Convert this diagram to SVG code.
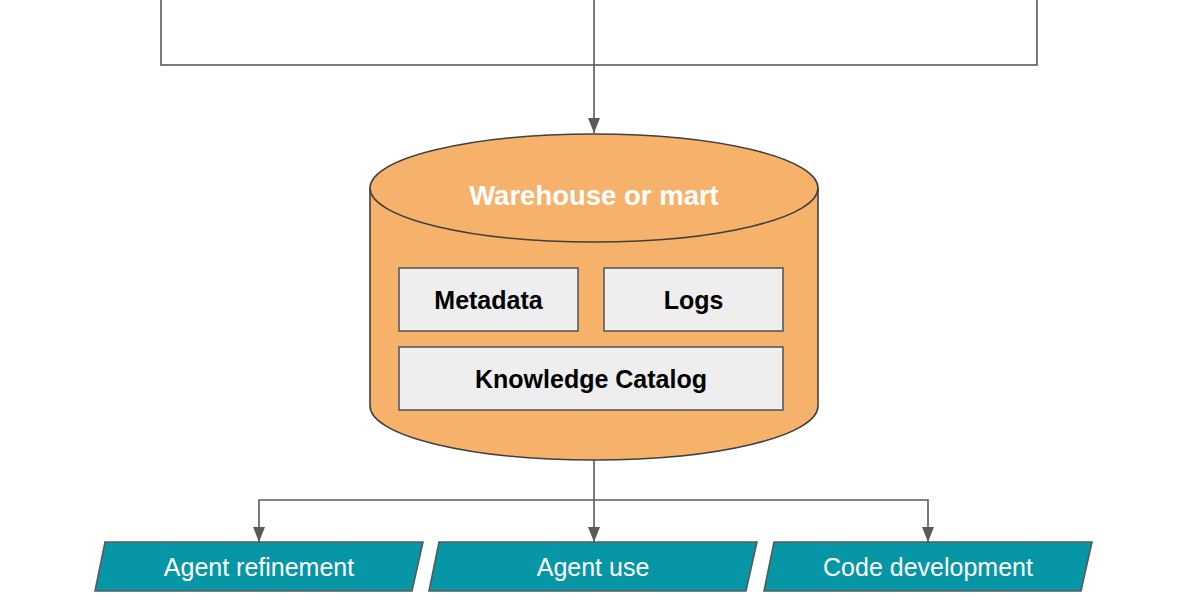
<svg xmlns="http://www.w3.org/2000/svg" width="1200" height="600" viewBox="0 0 1200 600">
<defs>
<style>
.ln{fill:none;stroke:#595959;stroke-width:1.6}
.box{fill:#eeeeee;stroke:#595959;stroke-width:1.6}
.cyl{fill:#f6b26b;stroke:#404040;stroke-width:1.6}
.para{fill:#0796a6;stroke:#595959;stroke-width:1.6}
.t{font-family:"Liberation Sans",Arial,sans-serif;text-anchor:middle}
.tb{font-weight:bold;font-size:25px;fill:#000}
.tw{font-size:25px;fill:#ffffff}
</style>
<marker id="arr" viewBox="0 0 15 12" refX="15" refY="6" markerWidth="15" markerHeight="12" markerUnits="userSpaceOnUse" orient="auto">
<path d="M0,0 L15,6 L0,12 Z" fill="#595959"/>
</marker>
</defs>
<rect width="1200" height="600" fill="#ffffff"/>
<g id="source">
<rect x="161" y="-10" width="876" height="75" class="ln"/>
</g>
<g id="connectors">
<path d="M594,0 V133" class="ln" marker-end="url(#arr)"/>
<path d="M594,460 V542" class="ln" marker-end="url(#arr)"/>
<path d="M594,500 H259 V542" class="ln" marker-end="url(#arr)"/>
<path d="M594,500 H928 V542" class="ln" marker-end="url(#arr)"/>
</g>
<g id="warehouse">
<path d="M370,188 V406 A224,54 0 0 0 818,406 V188" class="cyl"/>
<ellipse cx="594" cy="188" rx="224" ry="54" class="cyl"/>
<text x="594" y="205" class="t" font-weight="bold" font-size="27.5" fill="#ffffff">Warehouse or mart</text>
</g>
<g id="metadata">
<rect x="399" y="268" width="179" height="63" class="box"/>
<text x="488.5" y="309" class="t tb">Metadata</text>
</g>
<g id="logs">
<rect x="604" y="268" width="179" height="63" class="box"/>
<text x="693.5" y="309" class="t tb">Logs</text>
</g>
<g id="catalog">
<rect x="399" y="347" width="384" height="63" class="box"/>
<text x="591" y="388" class="t tb">Knowledge Catalog</text>
</g>
<g id="agent-refinement">
<path d="M105,542 H423 L412,591 H95 Z" class="para"/>
<text x="259" y="576" class="t tw">Agent refinement</text>
</g>
<g id="agent-use">
<path d="M439,542 H757 L746,591 H429 Z" class="para"/>
<text x="593" y="576" class="t tw">Agent use</text>
</g>
<g id="code-development">
<path d="M774,542 H1092 L1081,591 H764 Z" class="para"/>
<text x="928" y="576" class="t tw">Code development</text>
</g>
</svg>
